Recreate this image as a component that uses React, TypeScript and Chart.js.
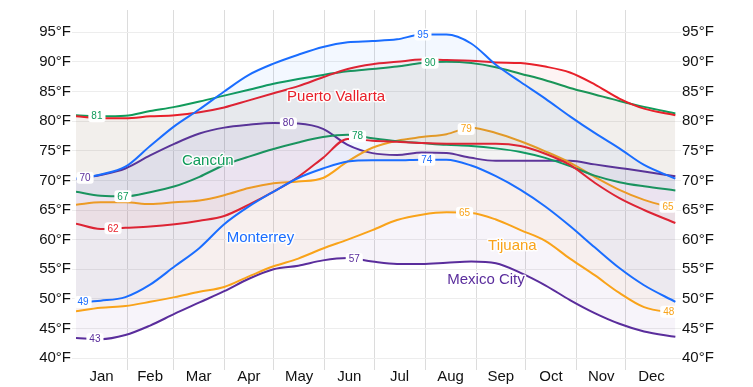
import React, { useEffect, useRef } from 'react';
import { Chart, registerables } from 'chart.js';

Chart.register(...registerables);

const FONT = '"Liberation Sans", Arial, Helvetica, sans-serif';

// Day-of-year sample positions
const days = [0, 15, 30, 45, 60, 75, 90, 105, 120, 135, 150, 165, 180, 195, 210, 225, 240, 255, 270, 285, 300, 315, 330, 345, 364];

const monthNames = ['Jan', 'Feb', 'Mar', 'Apr', 'May', 'Jun', 'Jul', 'Aug', 'Sep', 'Oct', 'Nov', 'Dec'];
const monthStarts = [0, 31, 59, 90, 120, 151, 181, 212, 243, 273, 304, 334, 365];
const yTicks = [40, 45, 50, 55, 60, 65, 70, 75, 80, 85, 90, 95];

const monterreyHigh = [70.3, 71.0, 72.3, 75.8, 79.2, 82.0, 85.0, 87.8, 89.7, 91.2, 92.5, 93.3, 93.5, 93.8, 94.6, 94.6, 93.1, 89.5, 86.6, 83.8, 80.8, 78.0, 75.4, 72.6, 70.3];
const monterreyLow = [49.4, 49.7, 50.3, 52.4, 55.5, 58.6, 62.6, 65.6, 68.1, 70.4, 72.0, 73.2, 73.4, 73.4, 73.5, 73.5, 72.5, 70.7, 68.4, 65.6, 62.3, 58.7, 55.2, 52.3, 49.5];
const vallartaHigh = [80.8, 80.5, 80.5, 80.8, 81.0, 81.5, 82.3, 83.5, 84.7, 85.9, 87.4, 88.8, 89.6, 90.0, 90.4, 90.3, 90.2, 89.9, 89.8, 89.2, 88.2, 86.2, 83.8, 82.1, 81.0];
const vallartaLow = [62.7, 61.8, 62.0, 62.2, 62.6, 63.2, 64.0, 65.9, 68.1, 70.6, 73.8, 77.0, 76.7, 76.5, 76.3, 76.2, 76.2, 76.2, 75.8, 74.5, 72.6, 69.6, 67.0, 65.0, 62.8];
const cancunHigh = [81.0, 80.8, 80.9, 81.7, 82.4, 83.3, 84.3, 85.3, 86.3, 87.1, 87.8, 88.4, 88.8, 89.2, 89.8, 90.0, 89.8, 89.1, 88.0, 86.9, 85.6, 84.5, 83.4, 82.4, 81.3];
const cancunLow = [68.1, 67.4, 67.3, 68.0, 69.0, 70.6, 72.6, 74.0, 75.3, 76.4, 77.3, 77.7, 77.1, 76.6, 76.3, 76.0, 75.8, 75.4, 74.8, 73.8, 72.4, 70.8, 69.7, 69.0, 68.3];
const tijuanaHigh = [65.9, 66.3, 66.3, 66.0, 66.3, 66.6, 67.5, 68.7, 69.5, 69.8, 70.4, 73.2, 75.5, 76.7, 77.3, 77.8, 78.9, 78.0, 76.6, 74.9, 73.0, 70.6, 68.4, 66.7, 65.2];
const tijuanaLow = [47.9, 48.5, 48.8, 49.5, 50.3, 51.2, 52.0, 53.8, 55.5, 56.8, 58.5, 60.0, 61.6, 63.3, 64.2, 64.6, 64.5, 63.4, 61.6, 59.8, 56.8, 54.0, 51.0, 48.6, 47.6];
const mexicoHigh = [70.2, 70.9, 72.0, 74.2, 76.2, 77.9, 78.9, 79.4, 79.7, 79.6, 78.7, 76.0, 74.6, 74.3, 74.7, 74.6, 73.8, 73.3, 73.3, 73.3, 73.3, 72.7, 72.1, 71.5, 70.7];
const mexicoLow = [43.4, 43.2, 43.9, 45.5, 47.5, 49.4, 51.3, 53.4, 55.0, 55.6, 56.5, 56.9, 56.3, 55.9, 55.9, 56.1, 56.3, 56.0, 54.4, 52.3, 49.8, 47.6, 45.8, 44.5, 43.6];

const cityNames = ['Monterrey', 'Puerto Vallarta', 'Cancún', 'Tijuana', 'Mexico City'];
const cityColors = ['26,109,255', '232,32,42', '16,155,90', '249,163,26', '90,45,156'];
const cityHighs = [monterreyHigh, vallartaHigh, cancunHigh, tijuanaHigh, mexicoHigh];
const cityLows = [monterreyLow, vallartaLow, cancunLow, tijuanaLow, mexicoLow];

// Value labels: [city index, 'high' | 'low', day, text]
const valueLabels: [number, string, number, string][] = [
  [0, 'high', 210.7, '95'],
  [0, 'low', 213, '74'],
  [0, 'low', 4.3, '49'],
  [1, 'low', 22.5, '62'],
  [2, 'high', 12.7, '81'],
  [2, 'high', 215, '90'],
  [2, 'low', 171, '78'],
  [2, 'low', 28.5, '67'],
  [3, 'high', 237, '79'],
  [3, 'low', 236, '65'],
  [3, 'high', 359.5, '65'],
  [3, 'low', 360, '48'],
  [4, 'high', 5.5, '70'],
  [4, 'high', 129, '80'],
  [4, 'low', 169, '57'],
  [4, 'low', 11.5, '43'],
];

// City name labels: [city index, day, °F]
const nameLabels: [number, number, number][] = [
  [1, 158, 84.1],
  [2, 80, 73.3],
  [0, 112, 60.3],
  [3, 265, 58.9],
  [4, 249, 53.2],
];

function valueAt(arr: number[], day: number) {
  for (let i = 0; i < days.length - 1; i++) {
    if (day >= days[i] && day <= days[i + 1]) {
      const t = (day - days[i]) / (days[i + 1] - days[i]);
      return arr[i] + (arr[i + 1] - arr[i]) * t;
    }
  }
  return arr[arr.length - 1];
}

const labelPlugin = {
  id: 'cityLabels',
  afterDatasetsDraw(chart: any) {
    const { ctx } = chart;
    const x = chart.scales.x;
    const y = chart.scales.y;
    ctx.save();
    ctx.textAlign = 'center';
    ctx.textBaseline = 'middle';
    ctx.font = `10px ${FONT}`;
    for (const [ci, which, day, text] of valueLabels) {
      const arr = which === 'high' ? cityHighs[ci] : cityLows[ci];
      const px = x.getPixelForValue(day);
      const py = y.getPixelForValue(valueAt(arr, day));
      const w = ctx.measureText(text).width + 6;
      const h = 12;
      ctx.fillStyle = '#ffffff';
      ctx.beginPath();
      if (ctx.roundRect) ctx.roundRect(px - w / 2, py - h / 2, w, h, 3);
      else ctx.rect(px - w / 2, py - h / 2, w, h);
      ctx.fill();
      ctx.fillStyle = `rgb(${cityColors[ci]})`;
      ctx.fillText(text, px, py + 0.5);
    }
    ctx.font = `15px ${FONT}`;
    ctx.lineJoin = 'round';
    for (const [ci, day, val] of nameLabels) {
      const px = x.getPixelForValue(day);
      const py = y.getPixelForValue(val);
      ctx.strokeStyle = 'rgba(255,255,255,0.9)';
      ctx.lineWidth = 3;
      ctx.strokeText(cityNames[ci], px, py);
      ctx.fillStyle = `rgb(${cityColors[ci]})`;
      ctx.fillText(cityNames[ci], px, py);
    }
    ctx.restore();
  },
};

const monthMids = monthNames.map((_, i) => (monthStarts[i] + monthStarts[i + 1]) / 2);
const boundaries = monthStarts.slice(1, 12);

export default function App() {
  const ref = useRef<HTMLCanvasElement>(null);

  useEffect(() => {
    if (!ref.current) return;
    const datasets: any[] = [];
    cityNames.forEach((name, i) => {
      const col = cityColors[i];
      datasets.push({
        label: name + ' high',
        data: days.map((d, k) => ({ x: d, y: cityHighs[i][k] })),
        borderColor: `rgb(${col})`,
        borderWidth: 2,
        pointRadius: 0,
        cubicInterpolationMode: 'monotone',
        fill: false,
      });
      datasets.push({
        label: name + ' low',
        data: days.map((d, k) => ({ x: d, y: cityLows[i][k] })),
        borderColor: `rgb(${col})`,
        backgroundColor: `rgba(${col},0.05)`,
        borderWidth: 2,
        pointRadius: 0,
        cubicInterpolationMode: 'monotone',
        fill: '-1',
      });
    });

    const yCommon = {
      type: 'linear',
      min: 38,
      max: 98.75,
      afterBuildTicks: (s: any) => {
        s.ticks = yTicks.map((v) => ({ value: v }));
      },
      afterFit: (s: any) => {
        s.width = 76;
      },
      ticks: {
        callback: (v: any) => `${v}°F`,
        font: { size: 15, family: FONT },
        color: '#111111',
        padding: 1,
      },
      border: { display: false },
    };

    const chart = new Chart(ref.current, {
      type: 'line',
      data: { datasets },
      options: {
        animation: false,
        responsive: true,
        maintainAspectRatio: false,
        layout: { padding: { top: 10, left: 0, right: 0, bottom: 0 } },
        plugins: { legend: { display: false }, tooltip: { enabled: false } },
        scales: {
          x: {
            type: 'linear',
            min: 0,
            max: 365,
            afterBuildTicks: (s: any) => {
              s.ticks = [...boundaries, ...monthMids].map((v) => ({ value: v }));
            },
            afterFit: (s: any) => {
              s.height = 17;
            },
            ticks: {
              autoSkip: false,
              maxRotation: 0,
              padding: -2,
              font: { size: 15, family: FONT },
              color: '#111111',
              callback: (v: any) => {
                const i = monthMids.indexOf(v);
                return i >= 0 ? monthNames[i] : '';
              },
            },
            grid: {
              drawTicks: false,
              color: (c: any) => (c.tick && boundaries.includes(c.tick.value) ? '#dcdcdc' : 'rgba(0,0,0,0)'),
            },
            border: { display: false },
          },
          y: {
            ...yCommon,
            position: 'left',
            grid: { color: '#ededed', tickLength: 4, drawTicks: true },
          },
          y2: {
            ...yCommon,
            position: 'right',
            grid: { color: '#ededed', tickLength: 4, drawTicks: true, drawOnChartArea: false },
          },
        },
      } as any,
      plugins: [labelPlugin],
    });
    return () => chart.destroy();
  }, []);

  return (
    <div style={{ position: 'fixed', left: 0, top: 0, width: 753, height: 387, background: '#fff' }}>
      <canvas ref={ref} />
    </div>
  );
}
